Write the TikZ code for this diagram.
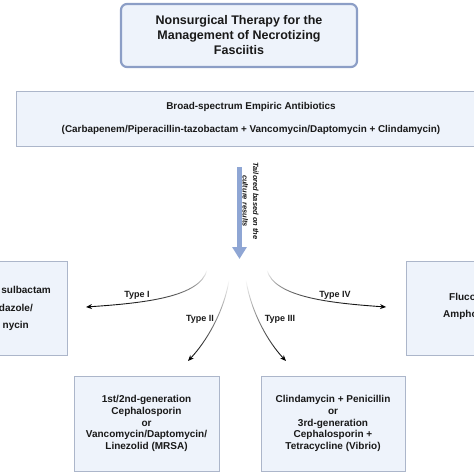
\documentclass[tikz,border=0pt]{standalone}
\usepackage{fontspec}
\setmainfont{Liberation Sans}
\usetikzlibrary{arrows.meta,fadings}

\definecolor{boxfill}{RGB}{238,243,251}
\definecolor{boxline}{RGB}{172,182,202}
\definecolor{titleline}{RGB}{140,158,198}
\definecolor{flowblue}{RGB}{143,166,212}
\definecolor{inktext}{RGB}{25,25,25}

\begin{document}
\begin{tikzpicture}[x=1pt, y=-1pt, auto, text=inktext,
    titlebox/.style ={draw=titleline, line width=2.2pt, rounded corners=6pt, fill=boxfill,
                      minimum width=236pt, minimum height=63pt, align=center,
                      font=\bfseries\fontsize{12.5}{15}\selectfont},
    drugbox/.style  ={draw=boxline, line width=0.9pt, fill=boxfill, align=center,
                      font=\bfseries\fontsize{10}{11.7}\selectfont},
    cuttext/.style  ={inner sep=0pt, font=\bfseries\fontsize{10}{12}\selectfont},
    typelabel/.style={inner sep=1pt, font=\bfseries\fontsize{9}{10}\selectfont},
    branch/.style   ={line width=0.9pt, path fading=north, -{Stealth[length=6pt,width=5pt]}}]
   \useasboundingbox (0,0) rectangle (474,474);
   \clip (0,0) rectangle (474,474);

   \node[titlebox] (title) at (239,35.5)
      {Nonsurgical Therapy for the\\Management of Necrotizing\\Fasciitis};

   \node[drugbox, minimum width=470pt, minimum height=55pt,
         font=\bfseries\fontsize{9.9}{23}\selectfont] (empiric) at (251,118.5)
      {Broad-spectrum Empiric Antibiotics\\
       (Carbapenem/Piperacillin-tazobactam + Vancomycin/Daptomycin + Clindamycin)};

   \node[drugbox, minimum width=130pt, minimum height=94pt] (typeI) at (2,308) {};
   \node[drugbox, minimum width=130pt, minimum height=94pt] (typeIV) at (471,308) {};
   \node[cuttext, anchor=east] (tIa) at (51,290) {sulbactam};
   \node[cuttext, anchor=east] (tIb) at (33,308) {dazole/};
   \node[cuttext, anchor=east] (tIc) at (29,326) {nycin};
   \node[cuttext, anchor=west] (tIVa) at (449,297) {Fluco};
   \node[cuttext, anchor=west] (tIVb) at (443,315) {Ampho};

   \node[drugbox, minimum width=145pt, minimum height=95pt] (typeII) at (146.5,423.5)
      {1st/2nd-generation\\Cephalosporin\\or\\Vancomycin/Daptomycin/\\Linezolid (MRSA)};
   \node[drugbox, minimum width=144pt, minimum height=95pt] (typeIII) at (333,423.5)
      {Clindamycin + Penicillin\\or\\3rd-generation\\Cephalosporin +\\Tetracycline (Vibrio)};

   % tailored step
   \coordinate (tailor) at (239.5,167);
   \coordinate (fan) at (239.5,259);
   \draw[flowblue, line width=5.5pt, -{Triangle[length=12pt,width=14pt]}] (tailor) -- (fan);
   \node[rotate=-90, align=center, inner sep=0pt,
         font=\bfseries\itshape\fontsize{7.5}{10.5}\selectfont] (tailorlbl) at (250.5,201)
      {Tailored based on the\\culture results};

   % branches
   \coordinate (fanI) at (207,270);
   \coordinate (fanII) at (229,280);
   \coordinate (fanIII) at (246,280);
   \coordinate (fanIV) at (267,270);
   \coordinate (endI) at (86,307);
   \coordinate (endII) at (188,361);
   \coordinate (endIII) at (286,361);
   \coordinate (endIV) at (386,307);

   \draw[branch] (fanI) .. controls (200,297) and (145,303) .. (endI);
   \draw[branch] (fanII) .. controls (224,312) and (206,342) .. (endII);
   \draw[branch] (fanIII) .. controls (251,312) and (268,342) .. (endIII);
   \draw[branch] (fanIV) .. controls (274,297) and (329,303) .. (endIV);

   \node[typelabel] (lblI) at (137,295) {Type I};
   \node[typelabel] (lblII) at (200,319) {Type II};
   \node[typelabel] (lblIII) at (280,319) {Type III};
   \node[typelabel] (lblIV) at (335,295) {Type IV};
 \end{tikzpicture}
\end{document}
